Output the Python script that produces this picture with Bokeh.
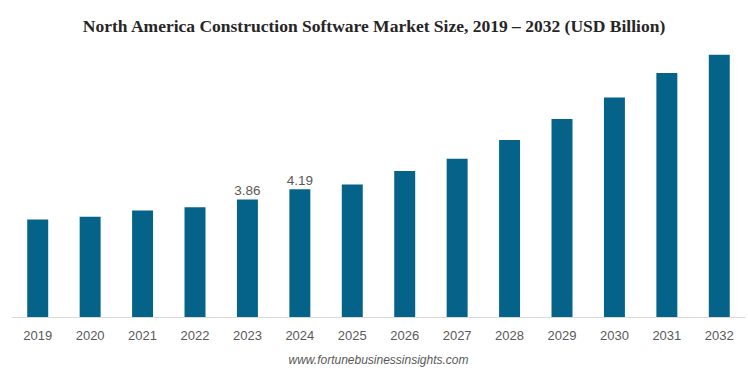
from bokeh.plotting import figure
from bokeh.models import ColumnDataSource, FactorRange, Range1d, Label, Title
from bokeh.core.properties import value
from bokeh.embed import file_html
from bokeh.resources import INLINE

years = ["2019", "2020", "2021", "2022", "2023", "2024", "2025",
         "2026", "2027", "2028", "2029", "2030", "2031", "2032"]
market_size = [3.20, 3.29, 3.50, 3.60, 3.86, 4.19, 4.35,
               4.79, 5.19, 5.80, 6.49, 7.19, 7.99, 8.59]
labeled_years = ["2023", "2024"]
labeled_values = [3.86, 4.19]

title_text = "North America Construction Software Market Size, 2019 \u2013 2032 (USD Billion)"
footer_text = "www.fortunebusinessinsights.com"

BAR = "#05638A"
GREY = "#595959"

W, H = 748, 374
LEFT, RIGHT = 11, 3
AXIS_Y = 316            # pixel row of the baseline
PX_PER_UNIT = 30.5
Y_END = AXIS_Y / PX_PER_UNIT

p = figure(x_range=FactorRange(*years, range_padding=0),
           y_range=Range1d(0, Y_END),
           width=W, height=H,
           output_backend="svg", toolbar_location=None,
           min_border_left=LEFT, min_border_right=RIGHT,
           min_border_top=0, min_border_bottom=0)

src = ColumnDataSource(dict(x=years, top=market_size))
p.vbar(x="x", top="top", width=0.4, source=src, fill_color=BAR, line_color=None)

lab = ColumnDataSource(dict(x=labeled_years, y=labeled_values,
                            t=[f"{v:.2f}" for v in labeled_values]))
p.text(x="x", y="y", text="t", source=lab, text_align="center",
       text_baseline="alphabetic", y_offset=-9,
       text_font=value("Liberation Sans"), text_font_size="13.5px",
       text_color=GREY)

title = Label(x=374 - LEFT, x_units="screen", y=(AXIS_Y - 25.7) / PX_PER_UNIT,
              text=title_text, text_align="center", text_baseline="alphabetic",
              text_font="Liberation Serif", text_font_style="bold",
              text_font_size="17.5px", text_color="#262626")
p.add_layout(title)

footer = Title(text=footer_text, align="center", text_font="Liberation Sans",
               text_font_style="italic", text_font_size="12px",
               text_color=GREY, standoff=16, offset=0)
p.add_layout(footer, "below")

p.yaxis.visible = False
p.xaxis.axis_line_color = "#D9D9D9"
p.xaxis.axis_line_width = 1
p.xaxis.major_tick_line_color = None
p.xaxis.minor_tick_line_color = None
p.xaxis.major_label_text_font = "Liberation Sans"
p.xaxis.major_label_text_font_size = "13px"
p.xaxis.major_label_text_color = GREY
p.xaxis.major_label_standoff = 7

p.xgrid.grid_line_color = None
p.ygrid.grid_line_color = None
p.outline_line_color = None
p.background_fill_color = "white"
p.border_fill_color = "white"

open("out.html", "w").write(file_html(p, INLINE))
